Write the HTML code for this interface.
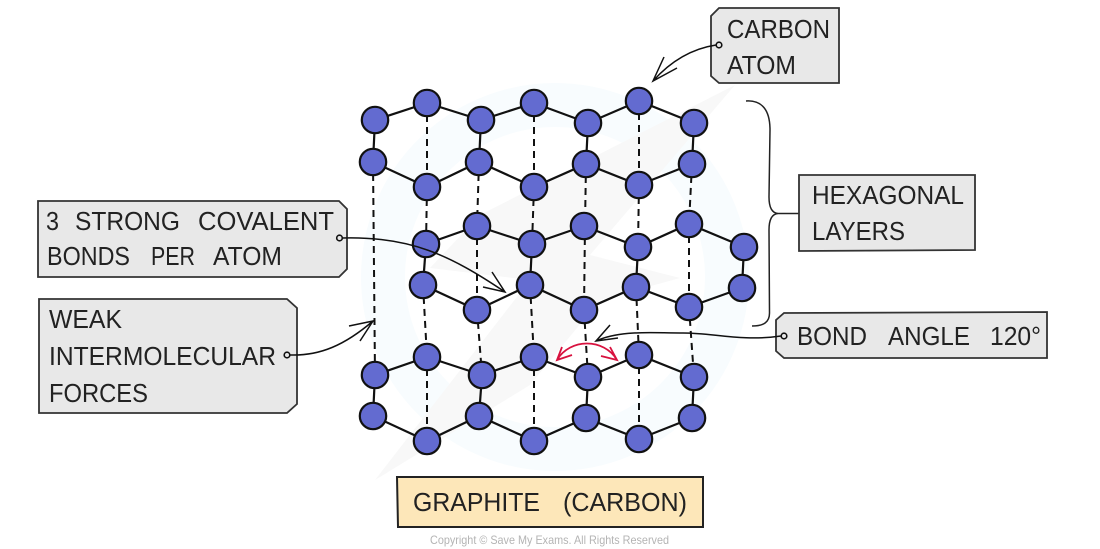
<!DOCTYPE html>
<html>
<head>
<meta charset="utf-8">
<style>
html,body{margin:0;padding:0;background:#fff;width:1100px;height:549px;overflow:hidden}
svg{display:block}
text{font-family:"Liberation Sans",sans-serif;font-size:26px;fill:#222}
.box{fill:#e8e8e8;stroke:#333;stroke-width:1.8}
.b{fill:none;stroke:#111;stroke-width:2.2}
.d{fill:none;stroke:#111;stroke-width:2;stroke-dasharray:7 5}
.n circle{fill:#636bd0;stroke:#111;stroke-width:2.2;r:13.2px}
.c{fill:none;stroke:#111;stroke-width:1.5}
.r{fill:none;stroke:#d8123f;stroke-width:1.8}
.o{fill:#e8e8e8;stroke:#111;stroke-width:1.6}
</style>
</head>
<body>
<svg width="1100" height="549" viewBox="0 0 1100 549" xmlns="http://www.w3.org/2000/svg">
<!-- watermark -->
<circle cx="555" cy="277" r="172" fill="none" stroke="#f8fcfe" stroke-width="44"/>
<polygon points="735,85 480,215 430,268 530,280 375,480 530,385 600,300 680,278 590,255" fill="#f8f8f8"/>

<!-- dashed -->
<g class="d">
<path d="M373,162L375,375"/>
<path d="M427,103L427,187M427,187L426,244M423,285L427,357M427,357L427,441"/>
<path d="M479,162L477,226M477,226L477,310M477,310L482,375"/>
<path d="M534,103L534,187M534,187L532,244M530,285L534,357M534,357L534,441"/>
<path d="M586,164L585,226M585,226L584,310M584,310L588,377"/>
<path d="M639,101L639,185M639,185L638,246M636,287L639,355M639,355L639,439"/>
<path d="M692,164L689,224M689,224L689,307M689,307L694,377"/>
</g>

<!-- bonds -->
<g class="b">
<polyline points="375,120 427,103 481,120 534,103 588,123 639,101 694,123"/>
<polyline points="373,162 427,187 479,162 534,187 586,164 639,185 692,164"/>
<path d="M375,120L373,162M481,120L479,162M588,123L586,164M694,123L692,164"/>
<polyline points="426,244 477,226 532,244 584,226 638,247 689,224 744,247"/>
<polyline points="423,285 477,310 530,285 584,310 636,287 689,307 742,288"/>
<path d="M426,244L423,285M532,244L530,285M638,247L636,287M744,247L742,288"/>
<polyline points="375,375 427,357 482,375 534,357 588,377 639,355 694,377"/>
<polyline points="373,416 427,441 479,416 534,441 586,418 639,439 692,418"/>
<path d="M375,375L373,416M482,375L479,416M588,377L586,418M694,377L692,418"/>
</g>

<!-- atoms -->
<g class="n">
<circle cx="375" cy="120" r="13.2"/><circle cx="427" cy="103" r="13.2"/><circle cx="481" cy="120" r="13.2"/><circle cx="534" cy="103" r="13.2"/><circle cx="588" cy="123" r="13.2"/><circle cx="639" cy="101" r="13.2"/><circle cx="694" cy="123" r="13.2"/>
<circle cx="373" cy="162" r="13.2"/><circle cx="427" cy="187" r="13.2"/><circle cx="479" cy="162" r="13.2"/><circle cx="534" cy="187" r="13.2"/><circle cx="586" cy="164" r="13.2"/><circle cx="639" cy="185" r="13.2"/><circle cx="692" cy="164" r="13.2"/>
<circle cx="426" cy="244" r="13.2"/><circle cx="477" cy="226" r="13.2"/><circle cx="532" cy="244" r="13.2"/><circle cx="584" cy="226" r="13.2"/><circle cx="638" cy="247" r="13.2"/><circle cx="689" cy="224" r="13.2"/><circle cx="744" cy="247" r="13.2"/>
<circle cx="423" cy="285" r="13.2"/><circle cx="477" cy="310" r="13.2"/><circle cx="530" cy="285" r="13.2"/><circle cx="584" cy="310" r="13.2"/><circle cx="636" cy="287" r="13.2"/><circle cx="689" cy="307" r="13.2"/><circle cx="742" cy="288" r="13.2"/>
<circle cx="375" cy="375" r="13.2"/><circle cx="427" cy="357" r="13.2"/><circle cx="482" cy="375" r="13.2"/><circle cx="534" cy="357" r="13.2"/><circle cx="588" cy="377" r="13.2"/><circle cx="639" cy="355" r="13.2"/><circle cx="694" cy="377" r="13.2"/>
<circle cx="373" cy="416" r="13.2"/><circle cx="427" cy="441" r="13.2"/><circle cx="479" cy="416" r="13.2"/><circle cx="534" cy="441" r="13.2"/><circle cx="586" cy="418" r="13.2"/><circle cx="639" cy="439" r="13.2"/><circle cx="692" cy="418" r="13.2"/>
</g>

<!-- brace -->
<path d="M746,101C762,100 770,110 770,130L769,197C769,207 772,213 778,213.500L799,213.500M778,213.500C772,214 769,220 769,230L769.500,313C769.500,322 764,326 752,326" fill="none" stroke="#222" stroke-width="1.5"/>

<!-- boxes -->
<polygon class="box" points="719,8 839,8 839,83 719,83 711,76 711,16"/>
<polygon class="box" points="799,175 975,175 975,250 799,251"/>
<polygon class="box" points="784,313 1047,312 1047,358 784,358 776,351 776,320"/>
<polygon class="box" points="38,201 339,201 347,209 347,269 339,277 38,277"/>
<polygon class="box" points="39,299 287,299 297,308 297,404 287,413 39,413"/>
<polygon points="397,477 703,477 703,527 398,527" fill="#fde7b9" stroke="#222" stroke-width="2"/>

<!-- connectors -->
<g class="c">
<path d="M342,238C410,236 450,255 505,292M492,272L505,292L483,287"/>
<path d="M290,355C320,356 345,345 373,321M349,326L373,321L360,341"/>
<path d="M716,45C690,49 670,62 653,81M664,57L653,81L677,68"/>
<path d="M781,336C740,342 710,332 680,333C650,333 620,330 596,341M610,325L596,341L618,338"/>
</g>
<circle class="o" cx="339.500" cy="238" r="2.800"/>
<circle class="o" cx="287" cy="355" r="2.800"/>
<circle class="o" cx="719" cy="45" r="2.800"/>
<circle class="o" cx="784" cy="336" r="2.800"/>

<!-- red angle -->
<path class="r" d="M557,360C570,338 604,338 617,360M562,347L557,360L572,355M610,347L617,360L601,356"/>

<!-- labels -->
<text x="727" y="38" textLength="103" lengthAdjust="spacingAndGlyphs">CARBON</text>
<text x="727" y="74" textLength="69" lengthAdjust="spacingAndGlyphs">ATOM</text>
<text x="812" y="204" textLength="152" lengthAdjust="spacingAndGlyphs">HEXAGONAL</text>
<text x="812" y="240" textLength="93" lengthAdjust="spacingAndGlyphs">LAYERS</text>
<text x="797" y="345" textLength="70" lengthAdjust="spacingAndGlyphs">BOND</text>
<text x="888" y="345" textLength="82" lengthAdjust="spacingAndGlyphs">ANGLE</text>
<text x="990" y="345" textLength="51" lengthAdjust="spacingAndGlyphs">120°</text>
<text x="46" y="230" textLength="13" lengthAdjust="spacingAndGlyphs">3</text>
<text x="75" y="230" textLength="105" lengthAdjust="spacingAndGlyphs">STRONG</text>
<text x="198" y="230" textLength="136" lengthAdjust="spacingAndGlyphs">COVALENT</text>
<text x="47" y="265" textLength="83" lengthAdjust="spacingAndGlyphs">BONDS</text>
<text x="151" y="265" textLength="44" lengthAdjust="spacingAndGlyphs">PER</text>
<text x="213" y="265" textLength="69" lengthAdjust="spacingAndGlyphs">ATOM</text>
<text x="49" y="328" textLength="73" lengthAdjust="spacingAndGlyphs">WEAK</text>
<text x="49" y="365" textLength="227" lengthAdjust="spacingAndGlyphs">INTERMOLECULAR</text>
<text x="49" y="402" textLength="99" lengthAdjust="spacingAndGlyphs">FORCES</text>
<text x="413" y="511" textLength="127" lengthAdjust="spacingAndGlyphs">GRAPHITE</text>
<text x="563" y="511" textLength="124" lengthAdjust="spacingAndGlyphs">(CARBON)</text>
<text x="430" y="544" textLength="239" lengthAdjust="spacingAndGlyphs" style="font-size:12px;fill:#b4b4b4">Copyright © Save My Exams. All Rights Reserved</text>
</svg>
</body>
</html>
